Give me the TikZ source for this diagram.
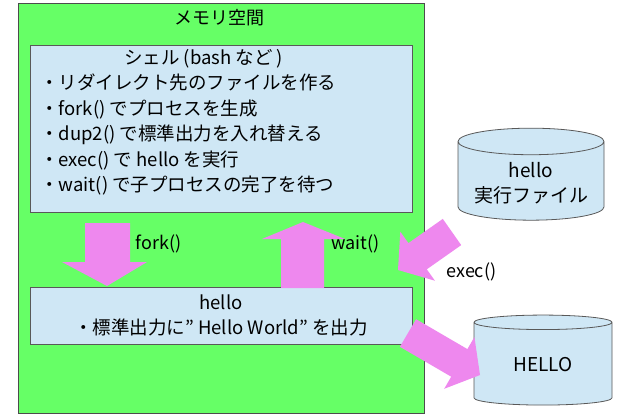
\documentclass[tikz,border=0pt]{standalone}
\usepackage{fontspec}
\setmainfont{Noto Sans CJK JP}
\usetikzlibrary{shapes.geometric}
\definecolor{grn}{HTML}{66FF66}
\definecolor{lb}{HTML}{CFE7F5}
\definecolor{pk}{HTML}{EE88EE}
\tikzset{
 box/.style={draw=gray!70!black,fill=lb,line width=0.8pt},
 cyl/.style={cylinder,shape border rotate=90,aspect=0.22,draw=gray!70!black,fill=lb,line width=0.8pt,align=center,font=\fontsize{19}{25}\selectfont},
 barr/.style={fill=pk},
 lbl/.style={font=\fontsize{18}{21}\selectfont,anchor=west}
}
\begin{document}
\begin{tikzpicture}[x=1pt,y=-1pt]
\useasboundingbox (0,0) rectangle (624,418);
\fill[white] (0,0) rectangle (624,418);
\node[draw=gray!60!black,fill=grn,line width=0.8pt,minimum width=406,minimum height=410,anchor=north west,inner sep=0] (mem) at (18,3) {};
\node[font=\fontsize{18}{21}\selectfont,anchor=north] (title) at (219,6) {メモリ空間};
\node[box,minimum width=382,minimum height=167,anchor=north west,inner sep=0] (sh) at (30,45) {};
\node[font=\fontsize{18.5}{25.5}\selectfont,align=left,anchor=north west,inner sep=0] (shtxt) at (40,49) {%
\hspace*{84pt}シェル (bash など )\\
・リダイレクト先のファイルを作る\\
・fork() でプロセスを生成\\
・dup2() で標準出力を入れ替える\\
・exec() で hello を実行\\
・wait() で子プロセスの完了を待つ};
\node[box,minimum width=382,minimum height=57,anchor=north west,inner sep=0] (hl) at (30,287) {};
\node[font=\fontsize{18.5}{25}\selectfont,align=center] (hltxt) at (221,315) {hello\\・標準出力に” Hello World” を出力};
\node[cyl,minimum width=146,minimum height=92] (exe) at (531,183) {hello\\実行ファイル};
\node[cyl,minimum width=138,minimum height=90] (out) at (543,365) {HELLO};
\fill[barr] (85,223) -- (130,223) -- (130,262) -- (147,262) -- (107,286) -- (62,262) -- (85,262) -- cycle;
\fill[barr] (281,288) -- (324,288) -- (324,239) -- (345,239) -- (303,222) -- (262,239) -- (281,239) -- cycle;
\fill[barr] (442.8,218.9) -- (408.4,243.1) -- (400.3,231.7) -- (398,270) -- (434.9,280.7) -- (426.8,269.3) -- (461.2,245.1) -- cycle;
\fill[barr] (416.1,319.2) -- (467.4,349.1) -- (474.4,337.0) -- (480,375) -- (444.2,388.8) -- (451.2,376.7) -- (399.9,346.8) -- cycle;
\node[lbl] (lf) at (132,244) {fork()};
\node[lbl] (lw) at (328,244) {wait()};
\node[lbl] (le) at (443,272) {exec()};
\end{tikzpicture}
\end{document}
